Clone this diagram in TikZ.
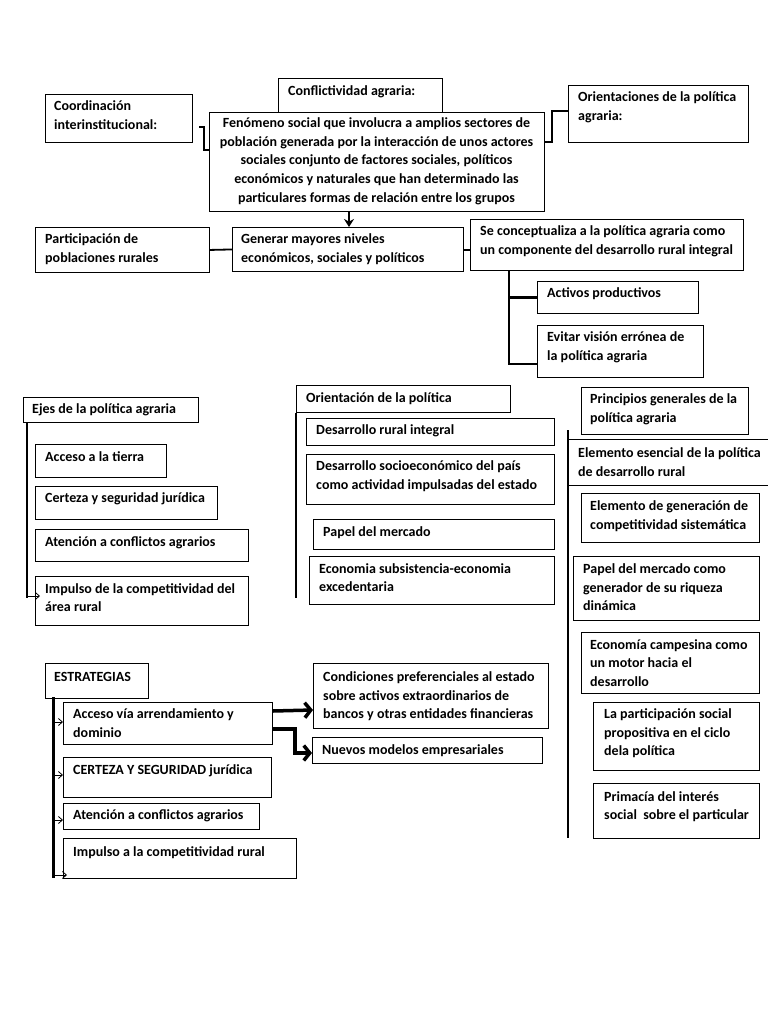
\documentclass[tikz,border=0pt]{standalone}
\usepackage{fontspec}
\setmainfont{Carlito}
\usetikzlibrary{arrows.meta}
\newcommand\mybox[5]{\node[bx, minimum width=#4pt-#2pt, minimum height=#5pt-#3pt] (#1) at (#2,#3) {};}
\newcommand\mylbl[5]{\node[lbl] (#1) at (#2,#3) {\parbox[t]{#4pt}{\raggedright #5}};}
\begin{document}
\begin{tikzpicture}[x=1pt,y=-1pt,
  bx/.style={draw, line width=0.9pt, inner sep=0pt, anchor=north west},
  lbl/.style={inner sep=0pt, anchor=base west, font=\fontsize{14}{18.7}\selectfont\bfseries},
  conn/.style={line width=2.4pt},
  thinconn/.style={line width=1.8pt},
  smallarr/.style={line width=0.8pt, -{Straight Barb[length=4pt,width=7pt]}},
  bigarr/.style={line width=3.5pt, -{Straight Barb[length=6pt,width=15pt]}},
  downarr/.style={line width=2pt, -{Stealth[length=8pt,width=10pt]}}]
\useasboundingbox (0,0) rectangle (768,1024);
\fill[white] (0,0) rectangle (768,1024);

% ---- top
\mybox{conf}{278}{78}{442}{112}
\mybox{coord}{45}{94}{192}{142}
\mybox{main}{209}{112}{544}{211}
\mybox{orients}{568}{85}{748}{142}
\mylbl{confT}{288}{95.5}{150}{Conflictividad agraria:}
\mylbl{coordT}{54}{110.5}{135}{Coordinación\\interinstitucional:}
\node[lbl, anchor=base] (mainT) at (376.5,127.5)
 {\parbox[t]{334pt}{\centering Fenómeno social que involucra a amplios sectores de\\población generada por la interacción de unos actores\\sociales conjunto de factores sociales, políticos\\económicos y naturales que han determinado las\\particulares formas de relación entre los grupos}};
\mylbl{orientsT}{578}{101.5}{168}{Orientaciones de la política\\agraria:}

\coordinate (lb1) at (199,127);
\coordinate (lb2) at (204,127);
\coordinate (lb3) at (204,150);
\draw[conn] (lb1) -- (lb2) -- (lb3) -- (lb3 -| main.west);
\coordinate (rb1) at (552,142);
\coordinate (rb2) at (552,111);
\draw[conn] (rb1 -| main.east) -- (rb1) -- (rb2) -- (rb2 -| orients.west);

% ---- row 2
\mybox{partic}{35}{227}{209}{272}
\mybox{gen}{232}{227}{463}{271}
\mybox{se}{470}{219}{743}{270}
\mybox{activos}{537}{281}{698}{313}
\mybox{evitar}{537}{325}{703}{377}
\mylbl{particT}{45}{243.5}{160}{Participación de\\poblaciones rurales}
\mylbl{genT}{241}{243.5}{220}{Generar mayores niveles\\económicos, sociales y políticos}
\mylbl{seT}{480}{236}{262}{Se conceptualiza a la política agraria como\\un componente del desarrollo rural integral}
\mylbl{activosT}{547}{297.5}{150}{Activos productivos}
\mylbl{evitarT}{547}{341.5}{150}{Evitar visión errónea de\\la política agraria}

\coordinate (ax) at (349,0);
\draw[downarr] (main.south -| ax) -- (gen.north -| ax);
\draw[line width=1.8pt] (partic.east) -- (gen.west);
\coordinate (gy) at (0,250);
\draw[conn] (gen.east |- gy) -- (se.west |- gy);
\coordinate (sx) at (509,0);
\coordinate (ev) at (0,364);
\draw[conn] (se.south -| sx) -- (sx |- ev) -- (evitar.west |- ev);
\draw[conn] (sx |- activos.west) -- (activos.west);

% ---- left column
\mybox{ejes}{23}{397}{198}{422}
\mybox{tierra}{35}{444}{166}{477}
\mybox{certeza}{35}{486}{217}{519}
\mybox{atencion}{35}{529}{248}{561}
\mybox{impulso}{35}{576}{248}{625}
\mylbl{ejesT}{32}{413.5}{165}{Ejes de la política agraria}
\mylbl{tierraT}{45}{461.5}{120}{Acceso a la tierra}
\mylbl{certezaT}{45}{502.5}{170}{Certeza y seguridad jurídica}
\mylbl{atencionT}{45}{546.5}{200}{Atención a conflictos agrarios}
\mylbl{impulsoT}{45}{593}{200}{Impulso de la competitividad del\\área rural}
\coordinate (ex) at (27,0);
\coordinate (ey) at (0,596);
\draw[thinconn] (ejes.south -| ex) -- (ex |- 0,598);
\draw[smallarr] (ex |- ey) -- (40,596);

% ---- middle column
\mybox{orient}{296}{385}{510}{412}
\mybox{drural}{306}{418}{554}{445}
\mybox{dsocio}{306}{454}{554}{504}
\mybox{papel}{313}{519}{554}{549}
\mybox{econ}{309}{556}{554}{604}
\mylbl{orientT}{306}{402.5}{200}{Orientación de la política}
\mylbl{druralT}{316}{434.5}{230}{Desarrollo rural integral}
\mylbl{dsocioT}{316}{470.5}{235}{Desarrollo socioeconómico del país\\como actividad impulsadas del estado}
\mylbl{papelT}{323}{536}{225}{Papel del mercado}
\mylbl{econT}{319}{573}{230}{Economia subsistencia-economia\\excedentaria}
\coordinate (ox) at (296,598);
\draw[thinconn] (orient.south west) -- (ox);

% ---- right column
\mybox{princ}{581}{387}{748}{434}
\node[inner sep=0pt, anchor=north west, minimum width=200pt, minimum height=46pt] (esencial) at (568,439) {};
\draw[line width=0.9pt] (esencial.north west) -- (esencial.north east);
\draw[line width=0.9pt] (esencial.south west) -- (esencial.south east);
\mybox{egen}{581}{493}{759}{542}
\mybox{pmerc}{573}{556}{759}{620}
\mybox{ecamp}{581}{632}{759}{693}
\mybox{psocial}{593}{702}{759}{770}
\mybox{prim}{593}{783}{759}{838}
\mylbl{princT}{590}{403.5}{155}{Principios generales de la\\política agraria}
\mylbl{esencialT}{578}{457.5}{190}{Elemento esencial de la política\\de desarrollo rural}
\mylbl{egenT}{590}{510.5}{168}{Elemento de generación de\\competitividad sistemática}
\mylbl{pmercT}{583}{573.5}{175}{Papel del mercado como\\generador de su riqueza\\dinámica}
\mylbl{ecampT}{590}{649}{168}{Economía campesina como\\un motor hacia el\\desarrollo}
\mylbl{psocialT}{604}{718.5}{155}{La participación social\\propositiva en el ciclo\\dela política}
\mylbl{primT}{604}{801}{155}{Primacía del interés\\social\ \ sobre el particular}
\coordinate (rx1) at (568,430);
\coordinate (rx2) at (568,838);
\draw[thinconn] (rx1) -- (rx2);

% ---- bottom left
\mybox{estr}{45}{663}{148}{698}
\mybox{acc}{63}{702}{272}{744}
\mybox{cert}{63}{757}{271}{797}
\mybox{aten}{63}{803}{259}{829}
\mybox{imp}{63}{838}{296}{878}
\mylbl{estrT}{54}{681.5}{95}{ESTRATEGIAS}
\mylbl{accT}{73}{718.5}{195}{Acceso vía arrendamiento y\\dominio}
\mylbl{certT}{73}{774.5}{195}{CERTEZA Y SEGURIDAD jurídica}
\mylbl{atenT}{73}{819.5}{185}{Atención a conflictos agrarios}
\mylbl{impT}{73}{856.5}{220}{Impulso a la competitividad rural}
\coordinate (sx1) at (53.5,697);
\coordinate (sx2) at (53.5,878);
\draw[line width=2.6pt] (sx1) -- (sx2);
\draw[smallarr] (sx1 |- 0,722) -- (acc.west |- 0,722);
\draw[smallarr] (sx1 |- 0,775) -- (cert.west |- 0,775);
\draw[smallarr] (sx1 |- 0,820) -- (aten.west |- 0,820);
\draw[smallarr] (sx1 |- 0,875) -- (67,875);

% ---- bottom middle
\mybox{cond}{313}{663}{548}{728}
\mybox{nuevos}{312}{737}{542}{763}
\mylbl{condT}{323}{681.5}{225}{Condiciones preferenciales al estado\\sobre activos extraordinarios de\\bancos y otras entidades financieras}
\mylbl{nuevosT}{322}{754}{215}{Nuevos modelos empresariales}
\draw[bigarr] (acc.east |- 0,711) -- (cond.west |- 0,710);
\coordinate (bk) at (295,729);
\draw[bigarr] (acc.east |- bk) -- (bk) -- (bk |- 0,753) -- (nuevos.west |- 0,753);
\end{tikzpicture}
\end{document}
